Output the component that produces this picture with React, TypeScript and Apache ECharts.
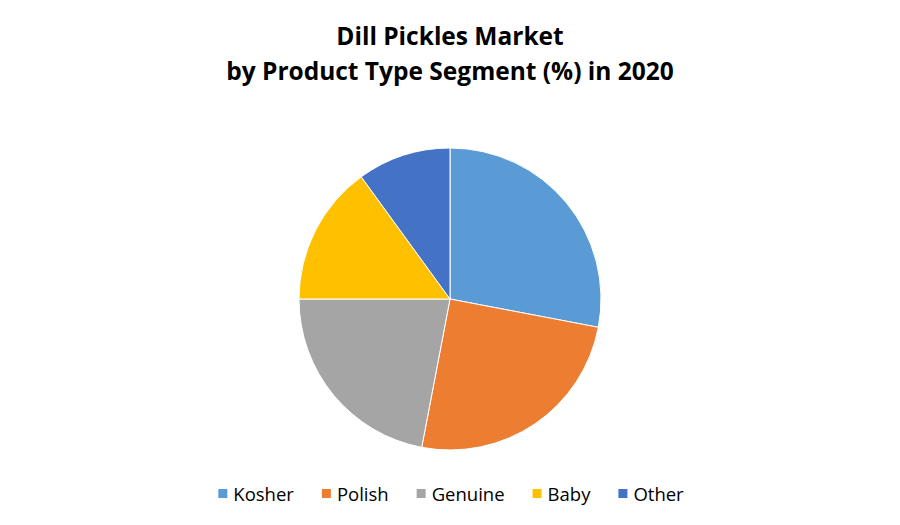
import { useEffect, useRef } from 'react';
import * as echarts from 'echarts';

const categories = ['Kosher', 'Polish', 'Genuine', 'Baby', 'Other'];
const shares = [28, 25, 22, 15, 10];
const colors = ['#5B9BD5', '#ED7D31', '#A5A5A5', '#FFC000', '#4472C4'];
const titleLines = ['Dill Pickles Market', 'by Product Type Segment (%) in 2020'];

const FONT = "'Open Sans', 'Liberation Sans', sans-serif";

const App: React.FC = () => {
  const chartRef = useRef<HTMLDivElement>(null);

  useEffect(() => {
    if (!chartRef.current) return;
    const chart = echarts.init(chartRef.current, undefined, { renderer: 'svg' });

    const option = {
      animation: false,
      backgroundColor: '#ffffff',
      color: colors,
      title: {
        text: titleLines.join('\n'),
        left: 'center',
        top: 13,
        textStyle: {
          fontFamily: FONT,
          fontSize: 24.5,
          fontWeight: 'bold',
          color: '#000000',
          lineHeight: 35,
        },
      },
      legend: {
        bottom: 17,
        left: 'center',
        icon: 'rect',
        itemWidth: 11,
        itemHeight: 11,
        itemGap: 26,
        textStyle: {
          fontFamily: FONT,
          fontSize: 18.5,
          color: '#000000',
        },
        data: categories,
      },
      series: [
        {
          type: 'pie',
          radius: 151,
          center: [450, 299],
          startAngle: 90,
          clockwise: true,
          label: { show: false },
          labelLine: { show: false },
          itemStyle: {
            borderColor: '#ffffff',
            borderWidth: 1,
          },
          data: categories.map((name, i) => ({ name, value: shares[i] })),
        },
      ],
    };

    chart.setOption(option);
    return () => {
      chart.dispose();
    };
  }, []);

  return (
    <div
      ref={chartRef}
      style={{ position: 'fixed', left: 0, top: 0, width: 900, height: 525 }}
    />
  );
};

export default App;
